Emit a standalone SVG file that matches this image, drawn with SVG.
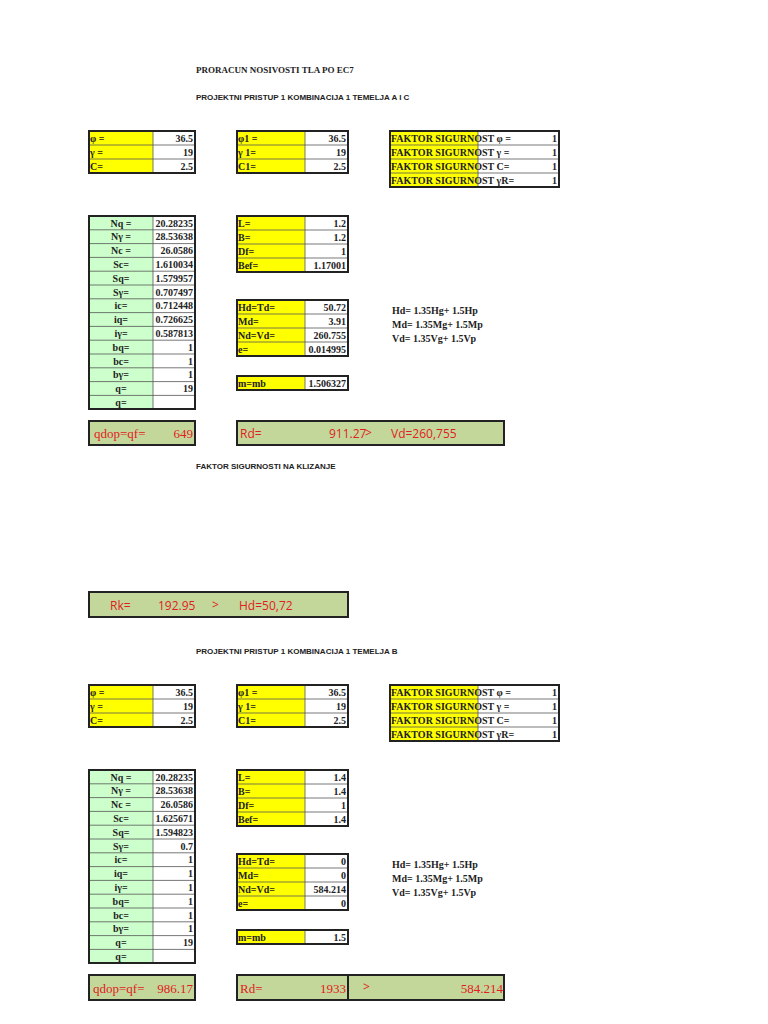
<svg xmlns="http://www.w3.org/2000/svg" width="768" height="1024" viewBox="0 0 768 1024">
<style>
.y{fill:#ffff00}.g{fill:#ccffcc}.w{fill:#fff}.r{fill:#c4d79b;stroke:#222;stroke-width:2}
.o{fill:none;stroke:#222;stroke-width:2}.l{stroke:#555;stroke-width:0.8}
text{font-family:"Liberation Serif",serif;font-weight:bold;font-size:10px;fill:#222}
.v{text-anchor:end}.c{text-anchor:middle}
.h{font-family:"Liberation Sans",sans-serif;font-size:8px}
.red{font-family:"Open Sans","Liberation Sans",sans-serif;font-weight:normal;font-size:12px;fill:#e02020}
.rs{font-family:"Liberation Serif",serif;font-weight:normal;font-size:13px;fill:#e02020}
</style>
<rect width="768" height="1024" fill="#fff"/>
<text x="196" y="73" style="font-size:9px">PRORACUN NOSIVOSTI TLA PO EC7</text>
<text x="196" y="100" class="h">PROJEKTNI PRISTUP 1 KOMBINACIJA 1  TEMELJA A I C</text>
<text x="196" y="469" class="h">FAKTOR SIGURNOSTI NA KLIZANJE</text>
<text x="196" y="654" class="h">PROJEKTNI PRISTUP 1 KOMBINACIJA 1  TEMELJA B</text>

<!-- common layout tables, section 1 -->
<g id="sec1">
<g id="phi1">
<rect x="89" y="131" width="64" height="42" class="y"/><rect x="153" y="131" width="42" height="42" class="w"/>
<path d="M89 145H195M89 159H195M153 131V173" class="l"/><rect x="89" y="131" width="106" height="42" class="o"/>
<text x="90" y="142">φ =</text><text x="90" y="156">γ =</text><text x="90" y="170">C=</text>
<text x="193" y="142" class="v">36.5</text><text x="193" y="156" class="v">19</text><text x="193" y="170" class="v">2.5</text>
</g>
<g id="phi1b">
<rect x="237" y="131" width="68" height="42" class="y"/><rect x="305" y="131" width="43" height="42" class="w"/>
<path d="M237 145H348M237 159H348M305 131V173" class="l"/><rect x="237" y="131" width="111" height="42" class="o"/>
<text x="238" y="142">φ1 =</text><text x="238" y="156">γ 1=</text><text x="238" y="170">C1=</text>
<text x="346" y="142" class="v">36.5</text><text x="346" y="156" class="v">19</text><text x="346" y="170" class="v">2.5</text>
</g>
<g id="fs1">
<rect x="390" y="131" width="88" height="56" class="y"/><rect x="478" y="131" width="81" height="56" class="w"/>
<path d="M390 145H559M390 159H559M390 173H559M478 131V187" class="l"/><rect x="390" y="131" width="169" height="56" class="o"/>
<text x="391" y="142">FAKTOR SIGURNOST φ =</text><text x="391" y="156">FAKTOR SIGURNOST γ =</text><text x="391" y="170">FAKTOR SIGURNOST C=</text><text x="391" y="184">FAKTOR SIGURNOST γR=</text>
<text x="557" y="142" class="v">1</text><text x="557" y="156" class="v">1</text><text x="557" y="170" class="v">1</text><text x="557" y="184" class="v">1</text>
</g>
<g id="green1">
<rect x="89" y="216" width="64" height="193" class="g"/><rect x="153" y="216" width="42" height="193" class="w"/>
<path d="M89 229.8H195M89 243.6H195M89 257.4H195M89 271.2H195M89 285H195M89 298.8H195M89 312.6H195M89 326.4H195M89 340.2H195M89 354H195M89 367.8H195M89 381.6H195M89 395.4H195M153 216V409" class="l"/>
<rect x="89" y="216" width="106" height="193" class="o"/>
<g class="c">
<text x="121" y="226.5" class="c">Nq =</text><text x="121" y="240.3" class="c">Nγ =</text><text x="121" y="254.1" class="c">Nc =</text><text x="121" y="267.9" class="c">Sc=</text><text x="121" y="281.7" class="c">Sq=</text><text x="121" y="295.5" class="c">Sγ=</text><text x="121" y="309.3" class="c">ic=</text><text x="121" y="323.1" class="c">iq=</text><text x="121" y="336.9" class="c">iγ=</text><text x="121" y="350.7" class="c">bq=</text><text x="121" y="364.5" class="c">bc=</text><text x="121" y="378.3" class="c">bγ=</text><text x="121" y="392.1" class="c">q=</text>
</g>
<text x="193" y="226.5" class="v">20.28235</text><text x="193" y="240.3" class="v">28.53638</text><text x="193" y="254.1" class="v">26.0586</text><text x="193" y="267.9" class="v">1.610034</text><text x="193" y="281.7" class="v">1.579957</text><text x="193" y="295.5" class="v">0.707497</text><text x="193" y="309.3" class="v">0.712448</text><text x="193" y="323.1" class="v">0.726625</text><text x="193" y="336.9" class="v">0.587813</text><text x="193" y="350.7" class="v">1</text><text x="193" y="364.5" class="v">1</text><text x="193" y="378.3" class="v">1</text><text x="193" y="392.1" class="v">19</text>
<text x="121" y="405.9" class="c">q=</text>
</g>
<g id="dim1">
<rect x="237" y="216" width="68" height="56" class="y"/><rect x="305" y="216" width="43" height="56" class="w"/>
<path d="M237 230H348M237 244H348M237 258H348M305 216V272" class="l"/><rect x="237" y="216" width="111" height="56" class="o"/>
<text x="238" y="227">L=</text><text x="238" y="241">B=</text><text x="238" y="255">Df=</text><text x="238" y="269">Bef=</text>
<text x="346" y="227" class="v">1.2</text><text x="346" y="241" class="v">1.2</text><text x="346" y="255" class="v">1</text><text x="346" y="269" class="v">1.17001</text>
</g>
<g id="load1">
<rect x="237" y="300" width="68" height="56" class="y"/><rect x="305" y="300" width="43" height="56" class="w"/>
<path d="M237 314H348M237 328H348M237 342H348M305 300V356" class="l"/><rect x="237" y="300" width="111" height="56" class="o"/>
<text x="238" y="311">Hd=Td=</text><text x="238" y="325">Md=</text><text x="238" y="339">Nd=Vd=</text><text x="238" y="353">e=</text>
<text x="346" y="311" class="v">50.72</text><text x="346" y="325" class="v">3.91</text><text x="346" y="339" class="v">260.755</text><text x="346" y="353" class="v">0.014995</text>
</g>
<g id="m1">
<rect x="237" y="376" width="68" height="14" class="y"/><rect x="305" y="376" width="43" height="14" class="w"/>
<path d="M305 376V390" class="l"/><rect x="237" y="376" width="111" height="14" class="o"/>
<text x="238" y="387">m=mb</text><text x="346" y="387" class="v">1.506327</text>
</g>
<g id="notes1">
<text x="392" y="314">Hd= 1.35Hg+ 1.5Hp</text><text x="392" y="328">Md= 1.35Mg+ 1.5Mp</text><text x="392" y="342">Vd= 1.35Vg+ 1.5Vp</text>
</g>
</g>
<g id="res1">
<rect x="89" y="421" width="106" height="24" class="r"/>
<text x="94" y="438" class="rs">qdop=qf=</text><text x="193" y="438" class="rs v">649</text>
</g>
<g id="rd1">
<rect x="237" y="421" width="267" height="24" class="r"/>
<text x="240" y="438" class="red">Rd=</text><text x="329" y="438" class="red">911.27</text><text x="365" y="437" class="red">&gt;</text><text x="391" y="438" class="red">Vd=260,755</text>
</g>
<g id="rk1">
<rect x="89" y="592" width="259" height="25" class="r"/>
<text x="110" y="610" class="red">Rk=</text><text x="158" y="610" class="red">192.95</text><text x="212" y="609" class="red">&gt;</text><text x="239" y="610" class="red">Hd=50,72</text>
</g>

<!-- section 2 -->
<g id="sec2" transform="translate(0,554)">
<g id="phi2">
<rect x="89" y="131" width="64" height="42" class="y"/><rect x="153" y="131" width="42" height="42" class="w"/>
<path d="M89 145H195M89 159H195M153 131V173" class="l"/><rect x="89" y="131" width="106" height="42" class="o"/>
<text x="90" y="142">φ =</text><text x="90" y="156">γ =</text><text x="90" y="170">C=</text>
<text x="193" y="142" class="v">36.5</text><text x="193" y="156" class="v">19</text><text x="193" y="170" class="v">2.5</text>
</g>
<g id="phi2b">
<rect x="237" y="131" width="68" height="42" class="y"/><rect x="305" y="131" width="43" height="42" class="w"/>
<path d="M237 145H348M237 159H348M305 131V173" class="l"/><rect x="237" y="131" width="111" height="42" class="o"/>
<text x="238" y="142">φ1 =</text><text x="238" y="156">γ 1=</text><text x="238" y="170">C1=</text>
<text x="346" y="142" class="v">36.5</text><text x="346" y="156" class="v">19</text><text x="346" y="170" class="v">2.5</text>
</g>
<g id="fs2">
<rect x="390" y="131" width="88" height="56" class="y"/><rect x="478" y="131" width="81" height="56" class="w"/>
<path d="M390 145H559M390 159H559M390 173H559M478 131V187" class="l"/><rect x="390" y="131" width="169" height="56" class="o"/>
<text x="391" y="142">FAKTOR SIGURNOST φ =</text><text x="391" y="156">FAKTOR SIGURNOST γ =</text><text x="391" y="170">FAKTOR SIGURNOST C=</text><text x="391" y="184">FAKTOR SIGURNOST γR=</text>
<text x="557" y="142" class="v">1</text><text x="557" y="156" class="v">1</text><text x="557" y="170" class="v">1</text><text x="557" y="184" class="v">1</text>
</g>
<g id="green2">
<rect x="89" y="216" width="64" height="193" class="g"/><rect x="153" y="216" width="42" height="193" class="w"/>
<path d="M89 229.8H195M89 243.6H195M89 257.4H195M89 271.2H195M89 285H195M89 298.8H195M89 312.6H195M89 326.4H195M89 340.2H195M89 354H195M89 367.8H195M89 381.6H195M89 395.4H195M153 216V409" class="l"/>
<rect x="89" y="216" width="106" height="193" class="o"/>
<text x="121" y="226.5" class="c">Nq =</text><text x="121" y="240.3" class="c">Nγ =</text><text x="121" y="254.1" class="c">Nc =</text><text x="121" y="267.9" class="c">Sc=</text><text x="121" y="281.7" class="c">Sq=</text><text x="121" y="295.5" class="c">Sγ=</text><text x="121" y="309.3" class="c">ic=</text><text x="121" y="323.1" class="c">iq=</text><text x="121" y="336.9" class="c">iγ=</text><text x="121" y="350.7" class="c">bq=</text><text x="121" y="364.5" class="c">bc=</text><text x="121" y="378.3" class="c">bγ=</text><text x="121" y="392.1" class="c">q=</text>
<text x="193" y="226.5" class="v">20.28235</text><text x="193" y="240.3" class="v">28.53638</text><text x="193" y="254.1" class="v">26.0586</text><text x="193" y="267.9" class="v">1.625671</text><text x="193" y="281.7" class="v">1.594823</text><text x="193" y="295.5" class="v">0.7</text><text x="193" y="309.3" class="v">1</text><text x="193" y="323.1" class="v">1</text><text x="193" y="336.9" class="v">1</text><text x="193" y="350.7" class="v">1</text><text x="193" y="364.5" class="v">1</text><text x="193" y="378.3" class="v">1</text><text x="193" y="392.1" class="v">19</text>
<text x="121" y="405.9" class="c">q=</text>
</g>
<g id="dim2">
<rect x="237" y="216" width="68" height="56" class="y"/><rect x="305" y="216" width="43" height="56" class="w"/>
<path d="M237 230H348M237 244H348M237 258H348M305 216V272" class="l"/><rect x="237" y="216" width="111" height="56" class="o"/>
<text x="238" y="227">L=</text><text x="238" y="241">B=</text><text x="238" y="255">Df=</text><text x="238" y="269">Bef=</text>
<text x="346" y="227" class="v">1.4</text><text x="346" y="241" class="v">1.4</text><text x="346" y="255" class="v">1</text><text x="346" y="269" class="v">1.4</text>
</g>
<g id="load2">
<rect x="237" y="300" width="68" height="56" class="y"/><rect x="305" y="300" width="43" height="56" class="w"/>
<path d="M237 314H348M237 328H348M237 342H348M305 300V356" class="l"/><rect x="237" y="300" width="111" height="56" class="o"/>
<text x="238" y="311">Hd=Td=</text><text x="238" y="325">Md=</text><text x="238" y="339">Nd=Vd=</text><text x="238" y="353">e=</text>
<text x="346" y="311" class="v">0</text><text x="346" y="325" class="v">0</text><text x="346" y="339" class="v">584.214</text><text x="346" y="353" class="v">0</text>
</g>
<g id="m2">
<rect x="237" y="376" width="68" height="14" class="y"/><rect x="305" y="376" width="43" height="14" class="w"/>
<path d="M305 376V390" class="l"/><rect x="237" y="376" width="111" height="14" class="o"/>
<text x="238" y="387">m=mb</text><text x="346" y="387" class="v">1.5</text>
</g>
<g id="notes2">
<text x="392" y="314">Hd= 1.35Hg+ 1.5Hp</text><text x="392" y="328">Md= 1.35Mg+ 1.5Mp</text><text x="392" y="342">Vd= 1.35Vg+ 1.5Vp</text>
</g>
<g id="res2">
<rect x="89" y="421" width="106" height="25" class="r"/>
<text x="93" y="439" class="rs">qdop=qf=</text><text x="193" y="439" class="rs v">986.17</text>
</g>
<g id="rd2">
<rect x="237" y="421" width="111" height="25" class="r"/><rect x="348" y="421" width="156" height="25" class="r"/>
<text x="240" y="439" class="rs">Rd=</text><text x="346" y="439" class="rs v">1933</text><text x="363" y="437" class="red">&gt;</text><text x="503" y="439" class="rs v">584.214</text>
</g>
</g>
</svg>
